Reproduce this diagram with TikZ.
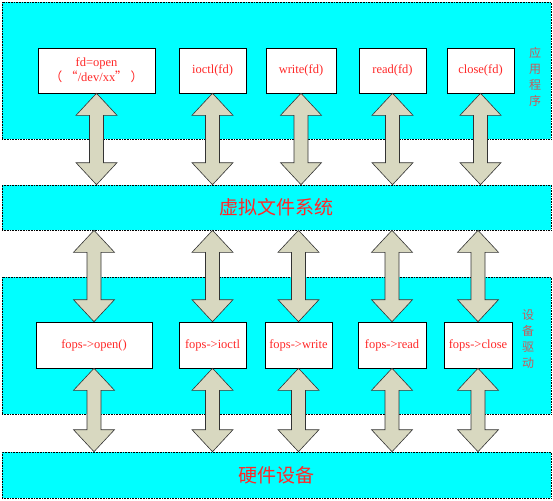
\documentclass[tikz,border=0pt]{standalone}
\usepackage{fontspec}
\setmainfont{Liberation Serif}
\newfontfamily\cjk{Noto Sans CJK SC}
\usetikzlibrary{calc}
\definecolor{layercyan}{RGB}{0,255,255}
\definecolor{arrowfill}{RGB}{216,216,192}
\definecolor{labelred}{RGB}{255,40,40}
\definecolor{sidered}{RGB}{200,90,90}

\newcommand{\dblarrow}[2]{%
  \draw[bigarrow] let \p1=#1, \p2=#2 in
    (\x1,\y1) -- ++(20.5pt,-22pt) -- ++(-13.5pt,0pt) -- (\x1+7pt,\y2+22pt)
    -- ++(13.5pt,0pt) -- (\x1,\y2) -- ++(-20.5pt,22pt) -- ++(13.5pt,0pt)
    -- (\x1-7pt,\y1-22pt) -- ++(-13.5pt,0pt) -- cycle;}

\begin{document}
\begin{tikzpicture}[x=1pt, y=-1pt,
  layer/.style={draw=black, densely dotted, line width=0.6pt, fill=layercyan, minimum width=549pt, inner sep=0pt},
  callbox/.style={draw=black, line width=0.6pt, fill=white, minimum height=45pt, inner sep=0pt, align=center, text=labelred, font=\fontsize{12.5}{15}\selectfont},
  sidelabel/.style={text=sidered, align=center, inner sep=0pt, font=\cjk\fontsize{12}{16}\selectfont},
  bigarrow/.style={draw=black!80, line width=0.6pt, fill=arrowfill}]
\useasboundingbox (0,0) rectangle (553,500);

% layers
\node[layer, minimum height=137pt] (app) at (276.5,70.5) {};
\node[layer, minimum height=45pt, text=labelred, font=\cjk\fontsize{19}{22}\selectfont] (vfs) at (276.5,207.5) {虚拟文件系统};
\node[layer, minimum height=137pt] (drv) at (276.5,345.5) {};
\node[layer, minimum height=46pt, text=labelred, font=\cjk\fontsize{19}{22}\selectfont] (hw) at (276.5,475) {硬件设备};

\node[sidelabel] (applbl) at (535,77) {应\\用\\程\\序};
\node[sidelabel] (drvlbl) at (528,339) {设\\备\\驱\\动};

% user calls
\node[callbox, minimum width=117pt] (a1) at (96.5,70.5) {fd=open\\{\cjk（ “}/dev/xx{\cjk” ）}};
\node[callbox, minimum width=67pt] (a2) at (212.5,70.5) {ioctl(fd)};
\node[callbox, minimum width=70pt] (a3) at (301,70.5) {write(fd)};
\node[callbox, minimum width=67pt] (a4) at (392.5,70.5) {read(fd)};
\node[callbox, minimum width=67pt] (a5) at (480.5,70.5) {close(fd)};

% driver operations
\node[callbox, minimum width=116pt, minimum height=46pt] (d1) at (94,345) {fops->open()};
\node[callbox, minimum width=67pt, minimum height=46pt] (d2) at (212.5,345) {fops->ioctl};
\node[callbox, minimum width=67pt, minimum height=46pt] (d3) at (298.5,345) {fops->write};
\node[callbox, minimum width=68pt, minimum height=46pt] (d4) at (392,345) {fops->read};
\node[callbox, minimum width=68pt, minimum height=46pt] (d5) at (478,345) {fops->close};

\foreach \i in {1,...,5} {
  \dblarrow{(a\i.south)}{(a\i.south |- vfs.north)}
  \dblarrow{(d\i.north |- vfs.south)}{(d\i.north)}
  \dblarrow{(d\i.south)}{(d\i.south |- hw.north)}
}
\end{tikzpicture}
\end{document}
